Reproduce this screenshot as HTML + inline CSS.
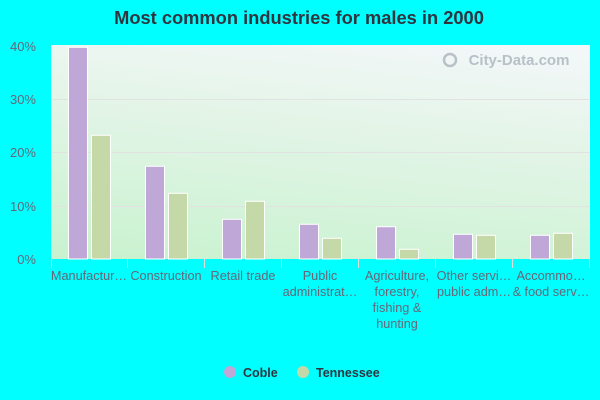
<!DOCTYPE html>
<html><head><meta charset="utf-8"><style>
html,body{margin:0;padding:0;background:#00ffff;}
svg{display:block;font-family:"Liberation Sans",Arial,sans-serif;}
</style></head><body>
<svg width="600" height="400" viewBox="0 0 600 400" xmlns="http://www.w3.org/2000/svg">
<defs>
<linearGradient id="bg" x1="0" y1="1" x2="0.35" y2="-0.3">
<stop offset="0" stop-color="#c8f2cf"/>
<stop offset="0.6" stop-color="#e6f5ea"/>
<stop offset="1" stop-color="#f8f8ff"/>
</linearGradient>
</defs>
<rect width="600" height="400" fill="#00ffff"/>
<text x="299" y="24" text-anchor="middle" font-size="18.3" font-weight="bold" fill="#2f3640">Most common industries for males in 2000</text>
<rect x="51" y="45" width="539" height="214" fill="url(#bg)"/>
<g stroke="#e2e2e2" stroke-width="1">
<line x1="51" y1="99.5" x2="590" y2="99.5"/>
<line x1="51" y1="152.5" x2="590" y2="152.5"/>
<line x1="51" y1="206.5" x2="590" y2="206.5"/>
</g>
<text x="519" y="65" text-anchor="middle" font-size="15" fill="#b8c0c8" font-weight="bold">City-Data.com</text>
<circle cx="450" cy="60" r="6" fill="none" stroke="#b8c0c8" stroke-width="2.5"/>
<g font-size="13" fill="#666677" text-anchor="end">
<text x="36" y="51">40%</text><text x="36" y="104">30%</text><text x="36" y="157">20%</text><text x="36" y="211">10%</text><text x="36" y="264">0%</text>
</g>
<g stroke="#ffffff" stroke-width="1">
<rect x="68.5" y="47.3" width="19" height="211.7" fill="#bfa8d8"/>
<rect x="91.5" y="135.3" width="19" height="123.7" fill="#c4d8a8"/>
<rect x="145.5" y="166.3" width="19" height="92.7" fill="#bfa8d8"/>
<rect x="168.5" y="193.3" width="19" height="65.7" fill="#c4d8a8"/>
<rect x="222.5" y="219.3" width="19" height="39.7" fill="#bfa8d8"/>
<rect x="245.5" y="201.3" width="19" height="57.7" fill="#c4d8a8"/>
<rect x="299.5" y="224.3" width="19" height="34.7" fill="#bfa8d8"/>
<rect x="322.5" y="238.3" width="19" height="20.7" fill="#c4d8a8"/>
<rect x="376.5" y="226.7" width="19" height="32.3" fill="#bfa8d8"/>
<rect x="399.5" y="249.3" width="19" height="9.7" fill="#c4d8a8"/>
<rect x="453.5" y="234.3" width="19" height="24.7" fill="#bfa8d8"/>
<rect x="476.5" y="235.3" width="19" height="23.7" fill="#c4d8a8"/>
<rect x="530.5" y="235.3" width="19" height="23.7" fill="#bfa8d8"/>
<rect x="553.5" y="233.3" width="19" height="25.7" fill="#c4d8a8"/>
</g>
<g stroke="#dddddd" stroke-width="1">
<line x1="51.5" y1="259" x2="51.5" y2="268"/><line x1="127.5" y1="259" x2="127.5" y2="268"/>
<line x1="204.5" y1="259" x2="204.5" y2="268"/><line x1="281.5" y1="259" x2="281.5" y2="268"/>
<line x1="358.5" y1="259" x2="358.5" y2="268"/><line x1="435.5" y1="259" x2="435.5" y2="268"/>
<line x1="512.5" y1="259" x2="512.5" y2="268"/><line x1="589.5" y1="259" x2="589.5" y2="268"/>
</g>
<g font-size="12.7" fill="#666677" text-anchor="middle">
<text x="89" y="280">Manufactur…</text>
<text x="166" y="280">Construction</text>
<text x="243" y="280">Retail trade</text>
<text x="320" y="280">Public</text><text x="320" y="296">administrat…</text>
<text x="397" y="280">Agriculture,</text><text x="397" y="296">forestry,</text><text x="397" y="312">fishing &amp;</text><text x="397" y="328">hunting</text>
<text x="474" y="280">Other servi…</text><text x="474" y="296">public adm…</text>
<text x="551" y="280">Accommo…</text><text x="551" y="296">&amp; food serv…</text>
</g>
<circle cx="230" cy="372" r="6" fill="#bfa8d8"/>
<text x="243" y="377" font-size="12.5" font-weight="bold" fill="#2f3640">Coble</text>
<circle cx="303" cy="372" r="6" fill="#c4d8a8"/>
<text x="316" y="377" font-size="12.5" font-weight="bold" fill="#2f3640">Tennessee</text>
</svg>
</body></html>
